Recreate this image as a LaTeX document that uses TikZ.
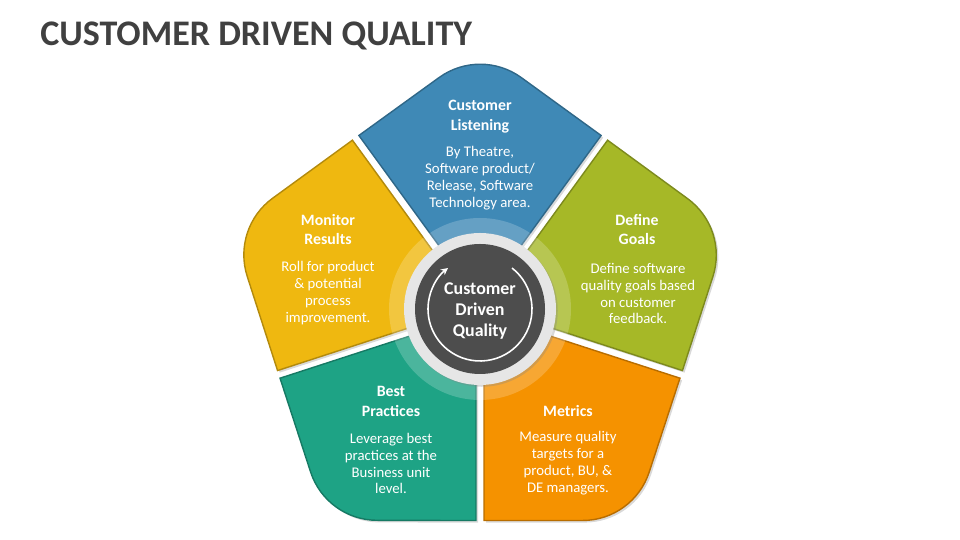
\documentclass[tikz,border=0pt]{standalone}
\usepackage{fontspec}
\setmainfont{Carlito}
\usepackage{tikz}
\usetikzlibrary{arrows.meta,shadows,positioning,calc}

\definecolor{cblue}{RGB}{63,137,182}
\definecolor{cyellow}{RGB}{239,184,16}
\definecolor{cteal}{RGB}{30,163,133}
\definecolor{corange}{RGB}{245,146,0}
\definecolor{colive}{RGB}{166,184,39}
\definecolor{ccore}{RGB}{77,77,77}
\definecolor{cring}{RGB}{230,230,230}
\definecolor{ctitle}{RGB}{64,64,64}

\begin{document}
\begin{tikzpicture}[x=0.02cm, y=0.02cm,
  segment/.style={line width=0.8pt, drop shadow={shadow xshift=1.2pt, shadow yshift=-1.2pt, opacity=0.3}},
  head/.style={text=white, font=\bfseries\fontsize{9}{11.3}\selectfont, align=center},
  body/.style={text=white, font=\fontsize{8.4}{9.65}\selectfont, align=center}]
  \useasboundingbox (0,0) rectangle (960,540);

  \node[anchor=base west, inner sep=0pt, text=ctitle, font=\bfseries\fontsize{20.5}{24}\selectfont] at (40,494) (title) {CUSTOMER DRIVEN QUALITY};

  \coordinate (c) at (480,231);

  % the five pieces of the pentagon
  \draw[segment, fill=cblue, draw=cblue!75!black, shift={(c)}, rotate=90]
    (50.9,-32) -- (173.5,-121.1) -- (231.4,-41.3) arc[start angle=-36, end angle=36, radius=70] -- (173.5,121.1) -- (50.9,32) -- cycle;
  \draw[segment, fill=cyellow, draw=cyellow!75!black, shift={(c)}, rotate=162]
    (50.9,-32) -- (173.5,-121.1) -- (231.4,-41.3) arc[start angle=-36, end angle=36, radius=70] -- (173.5,121.1) -- (50.9,32) -- cycle;
  \draw[segment, fill=cteal, draw=cteal!75!black, shift={(c)}, rotate=234]
    (50.9,-32) -- (173.5,-121.1) -- (231.4,-41.3) arc[start angle=-36, end angle=36, radius=70] -- (173.5,121.1) -- (50.9,32) -- cycle;
  \draw[segment, fill=corange, draw=corange!75!black, shift={(c)}, rotate=306]
    (50.9,-32) -- (173.5,-121.1) -- (231.4,-41.3) arc[start angle=-36, end angle=36, radius=70] -- (173.5,121.1) -- (50.9,32) -- cycle;
  \draw[segment, fill=colive, draw=colive!75!black, shift={(c)}, rotate=18]
    (50.9,-32) -- (173.5,-121.1) -- (231.4,-41.3) arc[start angle=-36, end angle=36, radius=70] -- (173.5,121.1) -- (50.9,32) -- cycle;

  % centre
  \fill[white, opacity=0.2, even odd rule] (c) circle[radius=91] (c) circle[radius=76];
  \fill[cring, drop shadow={shadow xshift=1pt, shadow yshift=-1pt, opacity=0.3}] (c) circle[radius=76];
  \fill[ccore] (c) circle[radius=65];
  \draw[white, line width=0.9pt, -{Stealth[length=4pt, width=4pt]}] ($(c)+(52:52)$) arc[start angle=52, end angle=-232, radius=52];
  \node[text=white, font=\bfseries\fontsize{10.2}{12.1}\selectfont, align=center] at ($(c)+(0,-2)$) (core) {Customer\\Driven\\Quality};

  \node[head] at (480,423) (listenhead) {Customer\\Listening};
  \node[body] at (480,361.5) (listenbody) {By Theatre,\\Software product/\\Release, Software\\Technology area.};

  \node[head] at (328,310.5) (monitorhead) {Monitor\\Results};
  \node[body] at (328,246.5) (monitorbody) {Roll for product\\\& potential\\process\\improvement.};

  \node[head] at (637,310.5) (goalshead) {Define\\Goals};
  \node[body] at (638,246.5) (goalsbody) {Define software\\quality goals based\\on customer\\feedback.};

  \node[head] at (391,138.5) (practhead) {Best\\Practices};
  \node[body] at (391,76.5) (practbody) {Leverage best\\practices at the\\Business unit\\level.};

  \node[head] at (568,129) (metricshead) {Metrics};
  \node[body] at (568,76.5) (metricsbody) {Measure quality\\targets for a\\product, BU, \&\\DE managers.};
\end{tikzpicture}
\end{document}
